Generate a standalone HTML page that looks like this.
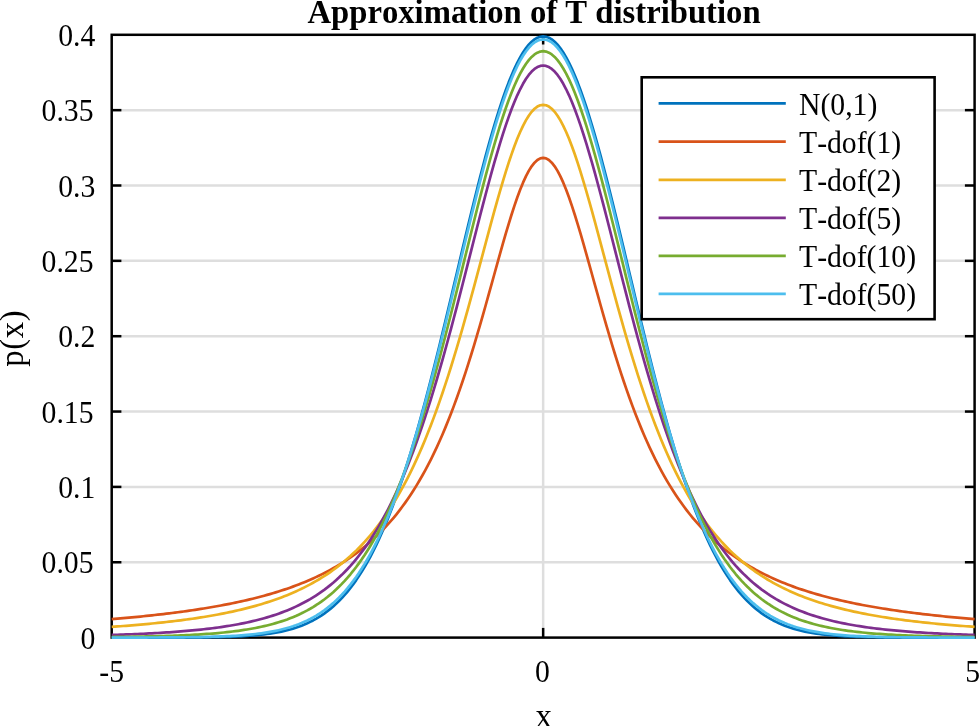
<!DOCTYPE html>
<html><head><meta charset="utf-8"><title>Approximation of T distribution</title>
<style>html,body{margin:0;padding:0;background:#fff;overflow:hidden}svg{display:block}text{font-kerning:none;font-family:"Liberation Serif",serif;fill:#000}</style></head><body>
<svg width="979" height="726" viewBox="0 0 979 726">
<rect width="979" height="726" fill="#fff"/>
<g stroke="#dedede" stroke-width="2.5" fill="none">
<line x1="111.7" y1="562.25" x2="974.6" y2="562.25"/>
<line x1="111.7" y1="486.90" x2="974.6" y2="486.90"/>
<line x1="111.7" y1="411.55" x2="974.6" y2="411.55"/>
<line x1="111.7" y1="336.20" x2="974.6" y2="336.20"/>
<line x1="111.7" y1="260.85" x2="974.6" y2="260.85"/>
<line x1="111.7" y1="185.50" x2="974.6" y2="185.50"/>
<line x1="111.7" y1="110.15" x2="974.6" y2="110.15"/>
<line x1="543.15" y1="34.8" x2="543.15" y2="637.6"/>
</g>
<g stroke="#000" stroke-width="2.5" fill="none" stroke-linecap="butt">
<rect x="111.7" y="34.8" width="862.90" height="602.80"/>
<line x1="111.7" y1="562.25" x2="121.4" y2="562.25"/>
<line x1="974.6" y1="562.25" x2="964.9" y2="562.25"/>
<line x1="111.7" y1="486.90" x2="121.4" y2="486.90"/>
<line x1="974.6" y1="486.90" x2="964.9" y2="486.90"/>
<line x1="111.7" y1="411.55" x2="121.4" y2="411.55"/>
<line x1="974.6" y1="411.55" x2="964.9" y2="411.55"/>
<line x1="111.7" y1="336.20" x2="121.4" y2="336.20"/>
<line x1="974.6" y1="336.20" x2="964.9" y2="336.20"/>
<line x1="111.7" y1="260.85" x2="121.4" y2="260.85"/>
<line x1="974.6" y1="260.85" x2="964.9" y2="260.85"/>
<line x1="111.7" y1="185.50" x2="121.4" y2="185.50"/>
<line x1="974.6" y1="185.50" x2="964.9" y2="185.50"/>
<line x1="111.7" y1="110.15" x2="121.4" y2="110.15"/>
<line x1="974.6" y1="110.15" x2="964.9" y2="110.15"/>
<line x1="543.15" y1="637.6" x2="543.15" y2="627.9"/>
<line x1="543.15" y1="34.8" x2="543.15" y2="44.5"/>
</g>
<g fill="none" stroke-width="2.7" stroke-linejoin="round" stroke-linecap="butt">
<polyline stroke="#0072BD" points="111.70,637.60 114.58,637.60 117.45,637.60 120.33,637.60 123.21,637.60 126.08,637.59 128.96,637.59 131.83,637.59 134.71,637.59 137.59,637.59 140.46,637.59 143.34,637.59 146.22,637.58 149.09,637.58 151.97,637.58 154.84,637.58 157.72,637.57 160.60,637.57 163.47,637.56 166.35,637.56 169.23,637.55 172.10,637.54 174.98,637.53 177.86,637.52 180.73,637.51 183.61,637.50 186.48,637.48 189.36,637.47 192.24,637.45 195.11,637.42 197.99,637.40 200.87,637.37 203.74,637.34 206.62,637.30 209.50,637.26 212.37,637.21 215.25,637.16 218.12,637.10 221.00,637.03 223.88,636.96 226.75,636.88 229.63,636.78 232.51,636.68 235.38,636.56 238.26,636.43 241.13,636.28 244.01,636.12 246.89,635.94 249.76,635.74 252.64,635.52 255.52,635.28 258.39,635.00 261.27,634.70 264.15,634.37 267.02,634.01 269.90,633.60 272.77,633.16 275.65,632.68 278.53,632.14 281.40,631.56 284.28,630.92 287.16,630.22 290.03,629.46 292.91,628.63 295.79,627.72 298.66,626.74 301.54,625.67 304.41,624.51 307.29,623.26 310.17,621.90 313.04,620.43 315.92,618.84 318.80,617.13 321.67,615.29 324.55,613.31 327.43,611.18 330.30,608.91 333.18,606.46 336.05,603.85 338.93,601.06 341.81,598.08 344.68,594.91 347.56,591.54 350.44,587.95 353.31,584.14 356.19,580.10 359.06,575.83 361.94,571.32 364.82,566.55 367.69,561.53 370.57,556.24 373.45,550.67 376.32,544.84 379.20,538.72 382.08,532.31 384.95,525.61 387.83,518.62 390.70,511.34 393.58,503.75 396.46,495.87 399.33,487.69 402.21,479.21 405.09,470.44 407.96,461.38 410.84,452.04 413.71,442.42 416.59,432.52 419.47,422.37 422.34,411.96 425.22,401.31 428.10,390.44 430.97,379.35 433.85,368.06 436.73,356.59 439.60,344.96 442.48,333.19 445.35,321.29 448.23,309.30 451.11,297.22 453.98,285.10 456.86,272.95 459.74,260.80 462.61,248.68 465.49,236.61 468.37,224.63 471.24,212.76 474.12,201.03 476.99,189.49 479.87,178.14 482.75,167.03 485.62,156.19 488.50,145.65 491.38,135.43 494.25,125.57 497.13,116.10 500.00,107.04 502.88,98.42 505.76,90.27 508.63,82.62 511.51,75.48 514.39,68.88 517.26,62.85 520.14,57.39 523.02,52.54 525.89,48.30 528.77,44.69 531.64,41.71 534.52,39.39 537.40,37.73 540.27,36.73 543.15,36.39 546.03,36.73 548.90,37.73 551.78,39.39 554.66,41.71 557.53,44.69 560.41,48.30 563.28,52.54 566.16,57.39 569.04,62.85 571.91,68.88 574.79,75.48 577.67,82.62 580.54,90.27 583.42,98.42 586.30,107.04 589.17,116.10 592.05,125.57 594.92,135.43 597.80,145.65 600.68,156.19 603.55,167.03 606.43,178.14 609.31,189.49 612.18,201.03 615.06,212.76 617.93,224.63 620.81,236.61 623.69,248.68 626.56,260.80 629.44,272.95 632.32,285.10 635.19,297.22 638.07,309.30 640.95,321.29 643.82,333.19 646.70,344.96 649.57,356.59 652.45,368.06 655.33,379.35 658.20,390.44 661.08,401.31 663.96,411.96 666.83,422.37 669.71,432.52 672.59,442.42 675.46,452.04 678.34,461.38 681.21,470.44 684.09,479.21 686.97,487.69 689.84,495.87 692.72,503.75 695.60,511.34 698.47,518.62 701.35,525.61 704.22,532.31 707.10,538.72 709.98,544.84 712.85,550.67 715.73,556.24 718.61,561.53 721.48,566.55 724.36,571.32 727.24,575.83 730.11,580.10 732.99,584.14 735.86,587.95 738.74,591.54 741.62,594.91 744.49,598.08 747.37,601.06 750.25,603.85 753.12,606.46 756.00,608.91 758.88,611.18 761.75,613.31 764.63,615.29 767.50,617.13 770.38,618.84 773.26,620.43 776.13,621.90 779.01,623.26 781.89,624.51 784.76,625.67 787.64,626.74 790.51,627.72 793.39,628.63 796.27,629.46 799.14,630.22 802.02,630.92 804.90,631.56 807.77,632.14 810.65,632.68 813.53,633.16 816.40,633.60 819.28,634.01 822.15,634.37 825.03,634.70 827.91,635.00 830.78,635.28 833.66,635.52 836.54,635.74 839.41,635.94 842.29,636.12 845.16,636.28 848.04,636.43 850.92,636.56 853.79,636.68 856.67,636.78 859.55,636.88 862.42,636.96 865.30,637.03 868.18,637.10 871.05,637.16 873.93,637.21 876.80,637.26 879.68,637.30 882.56,637.34 885.43,637.37 888.31,637.40 891.19,637.42 894.06,637.45 896.94,637.47 899.82,637.48 902.69,637.50 905.57,637.51 908.44,637.52 911.32,637.53 914.20,637.54 917.07,637.55 919.95,637.56 922.83,637.56 925.70,637.57 928.58,637.57 931.46,637.58 934.33,637.58 937.21,637.58 940.08,637.58 942.96,637.59 945.84,637.59 948.71,637.59 951.59,637.59 954.47,637.59 957.34,637.59 960.22,637.59 963.09,637.60 965.97,637.60 968.85,637.60 971.72,637.60 974.60,637.60"/>
<polyline stroke="#D95319" points="111.70,619.15 114.58,618.91 117.45,618.67 120.33,618.42 123.21,618.17 126.08,617.91 128.96,617.65 131.83,617.38 134.71,617.10 137.59,616.83 140.46,616.54 143.34,616.25 146.22,615.95 149.09,615.65 151.97,615.34 154.84,615.03 157.72,614.70 160.60,614.38 163.47,614.04 166.35,613.70 169.23,613.35 172.10,612.99 174.98,612.62 177.86,612.25 180.73,611.87 183.61,611.47 186.48,611.07 189.36,610.67 192.24,610.25 195.11,609.82 197.99,609.38 200.87,608.93 203.74,608.48 206.62,608.01 209.50,607.53 212.37,607.04 215.25,606.53 218.12,606.02 221.00,605.49 223.88,604.95 226.75,604.39 229.63,603.82 232.51,603.24 235.38,602.64 238.26,602.03 241.13,601.40 244.01,600.75 246.89,600.09 249.76,599.41 252.64,598.71 255.52,597.99 258.39,597.26 261.27,596.50 264.15,595.72 267.02,594.92 269.90,594.10 272.77,593.26 275.65,592.39 278.53,591.50 281.40,590.58 284.28,589.63 287.16,588.66 290.03,587.66 292.91,586.62 295.79,585.56 298.66,584.46 301.54,583.34 304.41,582.17 307.29,580.97 310.17,579.74 313.04,578.46 315.92,577.14 318.80,575.78 321.67,574.38 324.55,572.93 327.43,571.44 330.30,569.89 333.18,568.29 336.05,566.64 338.93,564.93 341.81,563.16 344.68,561.34 347.56,559.45 350.44,557.49 353.31,555.46 356.19,553.36 359.06,551.19 361.94,548.93 364.82,546.60 367.69,544.17 370.57,541.66 373.45,539.06 376.32,536.35 379.20,533.55 382.08,530.63 384.95,527.61 387.83,524.46 390.70,521.20 393.58,517.81 396.46,514.29 399.33,510.62 402.21,506.81 405.09,502.85 407.96,498.74 410.84,494.46 413.71,490.00 416.59,485.37 419.47,480.55 422.34,475.54 425.22,470.33 428.10,464.91 430.97,459.28 433.85,453.42 436.73,447.33 439.60,441.00 442.48,434.44 445.35,427.62 448.23,420.54 451.11,413.21 453.98,405.62 456.86,397.75 459.74,389.63 462.61,381.23 465.49,372.58 468.37,363.66 471.24,354.50 474.12,345.10 476.99,335.48 479.87,325.66 482.75,315.66 485.62,305.50 488.50,295.23 491.38,284.88 494.25,274.50 497.13,264.14 500.00,253.85 502.88,243.69 505.76,233.74 508.63,224.07 511.51,214.76 514.39,205.88 517.26,197.51 520.14,189.75 523.02,182.68 525.89,176.36 528.77,170.87 531.64,166.29 534.52,162.66 537.40,160.03 540.27,158.44 543.15,157.91 546.03,158.44 548.90,160.03 551.78,162.66 554.66,166.29 557.53,170.87 560.41,176.36 563.28,182.68 566.16,189.75 569.04,197.51 571.91,205.88 574.79,214.76 577.67,224.07 580.54,233.74 583.42,243.69 586.30,253.85 589.17,264.14 592.05,274.50 594.92,284.88 597.80,295.23 600.68,305.50 603.55,315.66 606.43,325.66 609.31,335.48 612.18,345.10 615.06,354.50 617.93,363.66 620.81,372.58 623.69,381.23 626.56,389.63 629.44,397.75 632.32,405.62 635.19,413.21 638.07,420.54 640.95,427.62 643.82,434.44 646.70,441.00 649.57,447.33 652.45,453.42 655.33,459.28 658.20,464.91 661.08,470.33 663.96,475.54 666.83,480.55 669.71,485.37 672.59,490.00 675.46,494.46 678.34,498.74 681.21,502.85 684.09,506.81 686.97,510.62 689.84,514.29 692.72,517.81 695.60,521.20 698.47,524.46 701.35,527.61 704.22,530.63 707.10,533.55 709.98,536.35 712.85,539.06 715.73,541.66 718.61,544.17 721.48,546.60 724.36,548.93 727.24,551.19 730.11,553.36 732.99,555.46 735.86,557.49 738.74,559.45 741.62,561.34 744.49,563.16 747.37,564.93 750.25,566.64 753.12,568.29 756.00,569.89 758.88,571.44 761.75,572.93 764.63,574.38 767.50,575.78 770.38,577.14 773.26,578.46 776.13,579.74 779.01,580.97 781.89,582.17 784.76,583.34 787.64,584.46 790.51,585.56 793.39,586.62 796.27,587.66 799.14,588.66 802.02,589.63 804.90,590.58 807.77,591.50 810.65,592.39 813.53,593.26 816.40,594.10 819.28,594.92 822.15,595.72 825.03,596.50 827.91,597.26 830.78,597.99 833.66,598.71 836.54,599.41 839.41,600.09 842.29,600.75 845.16,601.40 848.04,602.03 850.92,602.64 853.79,603.24 856.67,603.82 859.55,604.39 862.42,604.95 865.30,605.49 868.18,606.02 871.05,606.53 873.93,607.04 876.80,607.53 879.68,608.01 882.56,608.48 885.43,608.93 888.31,609.38 891.19,609.82 894.06,610.25 896.94,610.67 899.82,611.07 902.69,611.47 905.57,611.87 908.44,612.25 911.32,612.62 914.20,612.99 917.07,613.35 919.95,613.70 922.83,614.04 925.70,614.38 928.58,614.70 931.46,615.03 934.33,615.34 937.21,615.65 940.08,615.95 942.96,616.25 945.84,616.54 948.71,616.83 951.59,617.10 954.47,617.38 957.34,617.65 960.22,617.91 963.09,618.17 965.97,618.42 968.85,618.67 971.72,618.91 974.60,619.15"/>
<polyline stroke="#EDB120" points="111.70,626.86 114.58,626.66 117.45,626.45 120.33,626.24 123.21,626.02 126.08,625.80 128.96,625.57 131.83,625.34 134.71,625.10 137.59,624.85 140.46,624.60 143.34,624.34 146.22,624.08 149.09,623.81 151.97,623.53 154.84,623.24 157.72,622.95 160.60,622.64 163.47,622.33 166.35,622.02 169.23,621.69 172.10,621.35 174.98,621.01 177.86,620.65 180.73,620.29 183.61,619.91 186.48,619.52 189.36,619.13 192.24,618.72 195.11,618.30 197.99,617.87 200.87,617.42 203.74,616.96 206.62,616.49 209.50,616.01 212.37,615.51 215.25,614.99 218.12,614.46 221.00,613.92 223.88,613.35 226.75,612.77 229.63,612.17 232.51,611.56 235.38,610.92 238.26,610.26 241.13,609.58 244.01,608.89 246.89,608.16 249.76,607.42 252.64,606.65 255.52,605.86 258.39,605.04 261.27,604.19 264.15,603.31 267.02,602.41 269.90,601.47 272.77,600.51 275.65,599.51 278.53,598.47 281.40,597.40 284.28,596.29 287.16,595.15 290.03,593.96 292.91,592.73 295.79,591.46 298.66,590.14 301.54,588.78 304.41,587.36 307.29,585.90 310.17,584.38 313.04,582.80 315.92,581.17 318.80,579.48 321.67,577.72 324.55,575.90 327.43,574.00 330.30,572.04 333.18,570.00 336.05,567.89 338.93,565.69 341.81,563.41 344.68,561.04 347.56,558.57 350.44,556.02 353.31,553.36 356.19,550.60 359.06,547.72 361.94,544.74 364.82,541.64 367.69,538.41 370.57,535.06 373.45,531.58 376.32,527.95 379.20,524.19 382.08,520.27 384.95,516.20 387.83,511.96 390.70,507.56 393.58,502.99 396.46,498.24 399.33,493.30 402.21,488.17 405.09,482.84 407.96,477.30 410.84,471.56 413.71,465.60 416.59,459.42 419.47,453.01 422.34,446.36 425.22,439.48 428.10,432.36 430.97,424.99 433.85,417.38 436.73,409.52 439.60,401.40 442.48,393.04 445.35,384.43 448.23,375.57 451.11,366.47 453.98,357.14 456.86,347.58 459.74,337.80 462.61,327.83 465.49,317.67 468.37,307.34 471.24,296.87 474.12,286.28 476.99,275.59 479.87,264.84 482.75,254.06 485.62,243.29 488.50,232.56 491.38,221.93 494.25,211.44 497.13,201.14 500.00,191.08 502.88,181.31 505.76,171.90 508.63,162.89 511.51,154.33 514.39,146.30 517.26,138.84 520.14,132.00 523.02,125.83 525.89,120.39 528.77,115.71 531.64,111.82 534.52,108.77 537.40,106.57 540.27,105.24 543.15,104.80 546.03,105.24 548.90,106.57 551.78,108.77 554.66,111.82 557.53,115.71 560.41,120.39 563.28,125.83 566.16,132.00 569.04,138.84 571.91,146.30 574.79,154.33 577.67,162.89 580.54,171.90 583.42,181.31 586.30,191.08 589.17,201.14 592.05,211.44 594.92,221.93 597.80,232.56 600.68,243.29 603.55,254.06 606.43,264.84 609.31,275.59 612.18,286.28 615.06,296.87 617.93,307.34 620.81,317.67 623.69,327.83 626.56,337.80 629.44,347.58 632.32,357.14 635.19,366.47 638.07,375.57 640.95,384.43 643.82,393.04 646.70,401.40 649.57,409.52 652.45,417.38 655.33,424.99 658.20,432.36 661.08,439.48 663.96,446.36 666.83,453.01 669.71,459.42 672.59,465.60 675.46,471.56 678.34,477.30 681.21,482.84 684.09,488.17 686.97,493.30 689.84,498.24 692.72,502.99 695.60,507.56 698.47,511.96 701.35,516.20 704.22,520.27 707.10,524.19 709.98,527.95 712.85,531.58 715.73,535.06 718.61,538.41 721.48,541.64 724.36,544.74 727.24,547.72 730.11,550.60 732.99,553.36 735.86,556.02 738.74,558.57 741.62,561.04 744.49,563.41 747.37,565.69 750.25,567.89 753.12,570.00 756.00,572.04 758.88,574.00 761.75,575.90 764.63,577.72 767.50,579.48 770.38,581.17 773.26,582.80 776.13,584.38 779.01,585.90 781.89,587.36 784.76,588.78 787.64,590.14 790.51,591.46 793.39,592.73 796.27,593.96 799.14,595.15 802.02,596.29 804.90,597.40 807.77,598.47 810.65,599.51 813.53,600.51 816.40,601.47 819.28,602.41 822.15,603.31 825.03,604.19 827.91,605.04 830.78,605.86 833.66,606.65 836.54,607.42 839.41,608.16 842.29,608.89 845.16,609.58 848.04,610.26 850.92,610.92 853.79,611.56 856.67,612.17 859.55,612.77 862.42,613.35 865.30,613.92 868.18,614.46 871.05,614.99 873.93,615.51 876.80,616.01 879.68,616.49 882.56,616.96 885.43,617.42 888.31,617.87 891.19,618.30 894.06,618.72 896.94,619.13 899.82,619.52 902.69,619.91 905.57,620.29 908.44,620.65 911.32,621.01 914.20,621.35 917.07,621.69 919.95,622.02 922.83,622.33 925.70,622.64 928.58,622.95 931.46,623.24 934.33,623.53 937.21,623.81 940.08,624.08 942.96,624.34 945.84,624.60 948.71,624.85 951.59,625.10 954.47,625.34 957.34,625.57 960.22,625.80 963.09,626.02 965.97,626.24 968.85,626.45 971.72,626.66 974.60,626.86"/>
<polyline stroke="#7E2F8E" points="111.70,634.95 114.58,634.86 117.45,634.77 120.33,634.67 123.21,634.57 126.08,634.47 128.96,634.36 131.83,634.24 134.71,634.13 137.59,634.00 140.46,633.88 143.34,633.74 146.22,633.61 149.09,633.46 151.97,633.31 154.84,633.16 157.72,633.00 160.60,632.83 163.47,632.65 166.35,632.47 169.23,632.28 172.10,632.08 174.98,631.88 177.86,631.66 180.73,631.44 183.61,631.20 186.48,630.96 189.36,630.71 192.24,630.44 195.11,630.17 197.99,629.88 200.87,629.58 203.74,629.26 206.62,628.94 209.50,628.60 212.37,628.24 215.25,627.87 218.12,627.48 221.00,627.07 223.88,626.65 226.75,626.20 229.63,625.74 232.51,625.26 235.38,624.75 238.26,624.22 241.13,623.67 244.01,623.09 246.89,622.49 249.76,621.85 252.64,621.19 255.52,620.50 258.39,619.78 261.27,619.02 264.15,618.23 267.02,617.40 269.90,616.53 272.77,615.62 275.65,614.67 278.53,613.67 281.40,612.63 284.28,611.54 287.16,610.40 290.03,609.20 292.91,607.95 295.79,606.63 298.66,605.26 301.54,603.82 304.41,602.31 307.29,600.73 310.17,599.08 313.04,597.35 315.92,595.53 318.80,593.63 321.67,591.64 324.55,589.56 327.43,587.38 330.30,585.09 333.18,582.70 336.05,580.20 338.93,577.58 341.81,574.84 344.68,571.97 347.56,568.97 350.44,565.83 353.31,562.55 356.19,559.11 359.06,555.53 361.94,551.78 364.82,547.87 367.69,543.78 370.57,539.51 373.45,535.06 376.32,530.41 379.20,525.57 382.08,520.52 384.95,515.26 387.83,509.79 390.70,504.09 393.58,498.17 396.46,492.01 399.33,485.62 402.21,478.98 405.09,472.10 407.96,464.97 410.84,457.59 413.71,449.95 416.59,442.06 419.47,433.91 422.34,425.51 425.22,416.85 428.10,407.93 430.97,398.78 433.85,389.37 436.73,379.74 439.60,369.87 442.48,359.78 445.35,349.49 448.23,339.01 451.11,328.34 453.98,317.51 456.86,306.54 459.74,295.45 462.61,284.26 465.49,272.99 468.37,261.67 471.24,250.34 474.12,239.02 476.99,227.74 479.87,216.53 482.75,205.44 485.62,194.51 488.50,183.75 491.38,173.23 494.25,162.98 497.13,153.03 500.00,143.43 502.88,134.21 505.76,125.43 508.63,117.12 511.51,109.30 514.39,102.04 517.26,95.34 520.14,89.26 523.02,83.82 525.89,79.05 528.77,74.96 531.64,71.59 534.52,68.95 537.40,67.06 540.27,65.91 543.15,65.53 546.03,65.91 548.90,67.06 551.78,68.95 554.66,71.59 557.53,74.96 560.41,79.05 563.28,83.82 566.16,89.26 569.04,95.34 571.91,102.04 574.79,109.30 577.67,117.12 580.54,125.43 583.42,134.21 586.30,143.43 589.17,153.03 592.05,162.98 594.92,173.23 597.80,183.75 600.68,194.51 603.55,205.44 606.43,216.53 609.31,227.74 612.18,239.02 615.06,250.34 617.93,261.67 620.81,272.99 623.69,284.26 626.56,295.45 629.44,306.54 632.32,317.51 635.19,328.34 638.07,339.01 640.95,349.49 643.82,359.78 646.70,369.87 649.57,379.74 652.45,389.37 655.33,398.78 658.20,407.93 661.08,416.85 663.96,425.51 666.83,433.91 669.71,442.06 672.59,449.95 675.46,457.59 678.34,464.97 681.21,472.10 684.09,478.98 686.97,485.62 689.84,492.01 692.72,498.17 695.60,504.09 698.47,509.79 701.35,515.26 704.22,520.52 707.10,525.57 709.98,530.41 712.85,535.06 715.73,539.51 718.61,543.78 721.48,547.87 724.36,551.78 727.24,555.53 730.11,559.11 732.99,562.55 735.86,565.83 738.74,568.97 741.62,571.97 744.49,574.84 747.37,577.58 750.25,580.20 753.12,582.70 756.00,585.09 758.88,587.38 761.75,589.56 764.63,591.64 767.50,593.63 770.38,595.53 773.26,597.35 776.13,599.08 779.01,600.73 781.89,602.31 784.76,603.82 787.64,605.26 790.51,606.63 793.39,607.95 796.27,609.20 799.14,610.40 802.02,611.54 804.90,612.63 807.77,613.67 810.65,614.67 813.53,615.62 816.40,616.53 819.28,617.40 822.15,618.23 825.03,619.02 827.91,619.78 830.78,620.50 833.66,621.19 836.54,621.85 839.41,622.49 842.29,623.09 845.16,623.67 848.04,624.22 850.92,624.75 853.79,625.26 856.67,625.74 859.55,626.20 862.42,626.65 865.30,627.07 868.18,627.48 871.05,627.87 873.93,628.24 876.80,628.60 879.68,628.94 882.56,629.26 885.43,629.58 888.31,629.88 891.19,630.17 894.06,630.44 896.94,630.71 899.82,630.96 902.69,631.20 905.57,631.44 908.44,631.66 911.32,631.88 914.20,632.08 917.07,632.28 919.95,632.47 922.83,632.65 925.70,632.83 928.58,633.00 931.46,633.16 934.33,633.31 937.21,633.46 940.08,633.61 942.96,633.74 945.84,633.88 948.71,634.00 951.59,634.13 954.47,634.24 957.34,634.36 960.22,634.47 963.09,634.57 965.97,634.67 968.85,634.77 971.72,634.86 974.60,634.95"/>
<polyline stroke="#77AC30" points="111.70,637.00 114.58,636.97 117.45,636.94 120.33,636.90 123.21,636.86 126.08,636.82 128.96,636.78 131.83,636.74 134.71,636.69 137.59,636.64 140.46,636.58 143.34,636.53 146.22,636.47 149.09,636.41 151.97,636.34 154.84,636.27 157.72,636.19 160.60,636.12 163.47,636.03 166.35,635.94 169.23,635.85 172.10,635.75 174.98,635.64 177.86,635.53 180.73,635.41 183.61,635.29 186.48,635.16 189.36,635.01 192.24,634.87 195.11,634.71 197.99,634.54 200.87,634.36 203.74,634.17 206.62,633.97 209.50,633.76 212.37,633.54 215.25,633.30 218.12,633.05 221.00,632.78 223.88,632.49 226.75,632.19 229.63,631.87 232.51,631.53 235.38,631.18 238.26,630.79 241.13,630.39 244.01,629.96 246.89,629.51 249.76,629.03 252.64,628.52 255.52,627.98 258.39,627.40 261.27,626.79 264.15,626.15 267.02,625.47 269.90,624.74 272.77,623.97 275.65,623.16 278.53,622.30 281.40,621.39 284.28,620.42 287.16,619.40 290.03,618.31 292.91,617.16 295.79,615.95 298.66,614.66 301.54,613.31 304.41,611.87 307.29,610.35 310.17,608.74 313.04,607.04 315.92,605.24 318.80,603.35 321.67,601.35 324.55,599.23 327.43,597.00 330.30,594.65 333.18,592.17 336.05,589.56 338.93,586.80 341.81,583.90 344.68,580.85 347.56,577.64 350.44,574.27 353.31,570.72 356.19,566.99 359.06,563.08 361.94,558.98 364.82,554.68 367.69,550.17 370.57,545.45 373.45,540.52 376.32,535.35 379.20,529.96 382.08,524.33 384.95,518.46 387.83,512.34 390.70,505.97 393.58,499.35 396.46,492.46 399.33,485.31 402.21,477.89 405.09,470.21 407.96,462.25 410.84,454.03 413.71,445.54 416.59,436.79 419.47,427.77 422.34,418.49 425.22,408.96 428.10,399.18 430.97,389.17 433.85,378.93 436.73,368.47 439.60,357.80 442.48,346.95 445.35,335.92 448.23,324.74 451.11,313.42 453.98,301.98 456.86,290.44 459.74,278.84 462.61,267.19 465.49,255.53 468.37,243.88 471.24,232.27 474.12,220.73 476.99,209.29 479.87,197.99 482.75,186.87 485.62,175.95 488.50,165.27 491.38,154.87 494.25,144.78 497.13,135.04 500.00,125.68 502.88,116.74 505.76,108.25 508.63,100.24 511.51,92.74 514.39,85.79 517.26,79.41 520.14,73.63 523.02,68.47 525.89,63.95 528.77,60.09 531.64,56.91 534.52,54.43 537.40,52.64 540.27,51.57 543.15,51.21 546.03,51.57 548.90,52.64 551.78,54.43 554.66,56.91 557.53,60.09 560.41,63.95 563.28,68.47 566.16,73.63 569.04,79.41 571.91,85.79 574.79,92.74 577.67,100.24 580.54,108.25 583.42,116.74 586.30,125.68 589.17,135.04 592.05,144.78 594.92,154.87 597.80,165.27 600.68,175.95 603.55,186.87 606.43,197.99 609.31,209.29 612.18,220.73 615.06,232.27 617.93,243.88 620.81,255.53 623.69,267.19 626.56,278.84 629.44,290.44 632.32,301.98 635.19,313.42 638.07,324.74 640.95,335.92 643.82,346.95 646.70,357.80 649.57,368.47 652.45,378.93 655.33,389.17 658.20,399.18 661.08,408.96 663.96,418.49 666.83,427.77 669.71,436.79 672.59,445.54 675.46,454.03 678.34,462.25 681.21,470.21 684.09,477.89 686.97,485.31 689.84,492.46 692.72,499.35 695.60,505.97 698.47,512.34 701.35,518.46 704.22,524.33 707.10,529.96 709.98,535.35 712.85,540.52 715.73,545.45 718.61,550.17 721.48,554.68 724.36,558.98 727.24,563.08 730.11,566.99 732.99,570.72 735.86,574.27 738.74,577.64 741.62,580.85 744.49,583.90 747.37,586.80 750.25,589.56 753.12,592.17 756.00,594.65 758.88,597.00 761.75,599.23 764.63,601.35 767.50,603.35 770.38,605.24 773.26,607.04 776.13,608.74 779.01,610.35 781.89,611.87 784.76,613.31 787.64,614.66 790.51,615.95 793.39,617.16 796.27,618.31 799.14,619.40 802.02,620.42 804.90,621.39 807.77,622.30 810.65,623.16 813.53,623.97 816.40,624.74 819.28,625.47 822.15,626.15 825.03,626.79 827.91,627.40 830.78,627.98 833.66,628.52 836.54,629.03 839.41,629.51 842.29,629.96 845.16,630.39 848.04,630.79 850.92,631.18 853.79,631.53 856.67,631.87 859.55,632.19 862.42,632.49 865.30,632.78 868.18,633.05 871.05,633.30 873.93,633.54 876.80,633.76 879.68,633.97 882.56,634.17 885.43,634.36 888.31,634.54 891.19,634.71 894.06,634.87 896.94,635.01 899.82,635.16 902.69,635.29 905.57,635.41 908.44,635.53 911.32,635.64 914.20,635.75 917.07,635.85 919.95,635.94 922.83,636.03 925.70,636.12 928.58,636.19 931.46,636.27 934.33,636.34 937.21,636.41 940.08,636.47 942.96,636.53 945.84,636.58 948.71,636.64 951.59,636.69 954.47,636.74 957.34,636.78 960.22,636.82 963.09,636.86 965.97,636.90 968.85,636.94 971.72,636.97 974.60,637.00"/>
<polyline stroke="#4DBEEE" points="111.70,637.58 114.58,637.58 117.45,637.58 120.33,637.57 123.21,637.57 126.08,637.57 128.96,637.56 131.83,637.56 134.71,637.55 137.59,637.55 140.46,637.54 143.34,637.53 146.22,637.53 149.09,637.52 151.97,637.51 154.84,637.50 157.72,637.49 160.60,637.47 163.47,637.46 166.35,637.44 169.23,637.42 172.10,637.40 174.98,637.38 177.86,637.36 180.73,637.33 183.61,637.30 186.48,637.27 189.36,637.23 192.24,637.19 195.11,637.15 197.99,637.10 200.87,637.04 203.74,636.98 206.62,636.92 209.50,636.84 212.37,636.76 215.25,636.67 218.12,636.58 221.00,636.47 223.88,636.35 226.75,636.22 229.63,636.08 232.51,635.92 235.38,635.75 238.26,635.57 241.13,635.36 244.01,635.14 246.89,634.89 249.76,634.63 252.64,634.33 255.52,634.01 258.39,633.67 261.27,633.29 264.15,632.88 267.02,632.43 269.90,631.94 272.77,631.41 275.65,630.84 278.53,630.22 281.40,629.54 284.28,628.81 287.16,628.02 290.03,627.17 292.91,626.25 295.79,625.25 298.66,624.18 301.54,623.02 304.41,621.77 307.29,620.44 310.17,619.00 313.04,617.45 315.92,615.80 318.80,614.02 321.67,612.12 324.55,610.09 327.43,607.92 330.30,605.60 333.18,603.13 336.05,600.50 338.93,597.70 341.81,594.72 344.68,591.56 347.56,588.21 350.44,584.66 353.31,580.90 356.19,576.92 359.06,572.72 361.94,568.29 364.82,563.63 367.69,558.71 370.57,553.55 373.45,548.13 376.32,542.44 379.20,536.48 382.08,530.25 384.95,523.74 387.83,516.95 390.70,509.88 393.58,502.51 396.46,494.85 399.33,486.91 402.21,478.68 405.09,470.15 407.96,461.35 410.84,452.26 413.71,442.89 416.59,433.25 419.47,423.35 422.34,413.20 425.22,402.80 428.10,392.17 430.97,381.32 433.85,370.26 436.73,359.01 439.60,347.59 442.48,336.02 445.35,324.31 448.23,312.48 451.11,300.57 453.98,288.59 456.86,276.57 459.74,264.53 462.61,252.50 465.49,240.52 468.37,228.60 471.24,216.78 474.12,205.09 476.99,193.56 479.87,182.22 482.75,171.10 485.62,160.24 488.50,149.66 491.38,139.40 494.25,129.49 497.13,119.96 500.00,110.83 502.88,102.15 505.76,93.93 508.63,86.20 511.51,78.98 514.39,72.31 517.26,66.21 520.14,60.68 523.02,55.77 525.89,51.47 528.77,47.80 531.64,44.79 534.52,42.44 537.40,40.75 540.27,39.73 543.15,39.39 546.03,39.73 548.90,40.75 551.78,42.44 554.66,44.79 557.53,47.80 560.41,51.47 563.28,55.77 566.16,60.68 569.04,66.21 571.91,72.31 574.79,78.98 577.67,86.20 580.54,93.93 583.42,102.15 586.30,110.83 589.17,119.96 592.05,129.49 594.92,139.40 597.80,149.66 600.68,160.24 603.55,171.10 606.43,182.22 609.31,193.56 612.18,205.09 615.06,216.78 617.93,228.60 620.81,240.52 623.69,252.50 626.56,264.53 629.44,276.57 632.32,288.59 635.19,300.57 638.07,312.48 640.95,324.31 643.82,336.02 646.70,347.59 649.57,359.01 652.45,370.26 655.33,381.32 658.20,392.17 661.08,402.80 663.96,413.20 666.83,423.35 669.71,433.25 672.59,442.89 675.46,452.26 678.34,461.35 681.21,470.15 684.09,478.68 686.97,486.91 689.84,494.85 692.72,502.51 695.60,509.88 698.47,516.95 701.35,523.74 704.22,530.25 707.10,536.48 709.98,542.44 712.85,548.13 715.73,553.55 718.61,558.71 721.48,563.63 724.36,568.29 727.24,572.72 730.11,576.92 732.99,580.90 735.86,584.66 738.74,588.21 741.62,591.56 744.49,594.72 747.37,597.70 750.25,600.50 753.12,603.13 756.00,605.60 758.88,607.92 761.75,610.09 764.63,612.12 767.50,614.02 770.38,615.80 773.26,617.45 776.13,619.00 779.01,620.44 781.89,621.77 784.76,623.02 787.64,624.18 790.51,625.25 793.39,626.25 796.27,627.17 799.14,628.02 802.02,628.81 804.90,629.54 807.77,630.22 810.65,630.84 813.53,631.41 816.40,631.94 819.28,632.43 822.15,632.88 825.03,633.29 827.91,633.67 830.78,634.01 833.66,634.33 836.54,634.63 839.41,634.89 842.29,635.14 845.16,635.36 848.04,635.57 850.92,635.75 853.79,635.92 856.67,636.08 859.55,636.22 862.42,636.35 865.30,636.47 868.18,636.58 871.05,636.67 873.93,636.76 876.80,636.84 879.68,636.92 882.56,636.98 885.43,637.04 888.31,637.10 891.19,637.15 894.06,637.19 896.94,637.23 899.82,637.27 902.69,637.30 905.57,637.33 908.44,637.36 911.32,637.38 914.20,637.40 917.07,637.42 919.95,637.44 922.83,637.46 925.70,637.47 928.58,637.49 931.46,637.50 934.33,637.51 937.21,637.52 940.08,637.53 942.96,637.53 945.84,637.54 948.71,637.55 951.59,637.55 954.47,637.56 957.34,637.56 960.22,637.57 963.09,637.57 965.97,637.57 968.85,637.58 971.72,637.58 974.60,637.58"/>
</g>
<rect x="641.7" y="77.3" width="292.9" height="241.89999999999998" fill="#fff" stroke="#000" stroke-width="2.6"/>
<line x1="658.6" y1="103.3" x2="785.8" y2="103.3" stroke="#0072BD" stroke-width="2.7"/>
<text transform="translate(799.00,115.00) scale(1,1.05)" font-size="29.7">N(0,1)</text>
<line x1="658.6" y1="141.7" x2="785.8" y2="141.7" stroke="#D95319" stroke-width="2.7"/>
<text transform="translate(799.00,153.00) scale(1,1.05)" font-size="29.7">T-dof(1)</text>
<line x1="658.6" y1="179.8" x2="785.8" y2="179.8" stroke="#EDB120" stroke-width="2.7"/>
<text transform="translate(799.00,191.10) scale(1,1.05)" font-size="29.7">T-dof(2)</text>
<line x1="658.6" y1="217.8" x2="785.8" y2="217.8" stroke="#7E2F8E" stroke-width="2.7"/>
<text transform="translate(799.00,229.20) scale(1,1.05)" font-size="29.7">T-dof(5)</text>
<line x1="658.6" y1="255.8" x2="785.8" y2="255.8" stroke="#77AC30" stroke-width="2.7"/>
<text transform="translate(799.00,267.30) scale(1,1.05)" font-size="29.7">T-dof(10)</text>
<line x1="658.6" y1="293.9" x2="785.8" y2="293.9" stroke="#4DBEEE" stroke-width="2.7"/>
<text transform="translate(799.00,305.40) scale(1,1.05)" font-size="29.7">T-dof(50)</text>
<text transform="translate(95.40,648.60) scale(1,1.05)" font-size="29.7" text-anchor="end">0</text>
<text transform="translate(93.50,573.25) scale(1,1.05)" font-size="29.7" text-anchor="end">0.05</text>
<text transform="translate(95.30,497.90) scale(1,1.05)" font-size="29.7" text-anchor="end">0.1</text>
<text transform="translate(93.50,422.55) scale(1,1.05)" font-size="29.7" text-anchor="end">0.15</text>
<text transform="translate(95.30,347.20) scale(1,1.05)" font-size="29.7" text-anchor="end">0.2</text>
<text transform="translate(93.50,271.85) scale(1,1.05)" font-size="29.7" text-anchor="end">0.25</text>
<text transform="translate(95.30,196.50) scale(1,1.05)" font-size="29.7" text-anchor="end">0.3</text>
<text transform="translate(93.50,121.15) scale(1,1.05)" font-size="29.7" text-anchor="end">0.35</text>
<text transform="translate(95.30,45.80) scale(1,1.05)" font-size="29.7" text-anchor="end">0.4</text>
<text transform="translate(111.70,682.00) scale(1,1.05)" font-size="29.7" text-anchor="middle">-5</text>
<text transform="translate(542.45,682.00) scale(1,1.05)" font-size="29.7" text-anchor="middle">0</text>
<text transform="translate(972.60,682.00) scale(1,1.05)" font-size="29.7" text-anchor="middle">5</text>
<text transform="translate(543.55,727.00) scale(1,1.05)" font-size="32.7" text-anchor="middle">x</text>
<text transform="translate(23.00,338.20) rotate(-90) scale(1,1.05)" font-size="32.7" text-anchor="middle" letter-spacing="0.6">p(x)</text>
<text transform="translate(534.00,23.00) scale(1,1.05)" font-size="32.7" text-anchor="middle" font-weight="bold">Approximation of T distribution</text>
</svg></body></html>
